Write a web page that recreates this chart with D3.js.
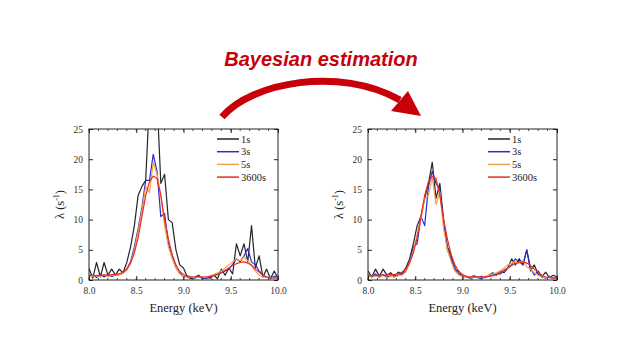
<!DOCTYPE html>
<html><head><meta charset="utf-8">
<script src="https://cdn.jsdelivr.net/npm/d3@7"></script>
<style>body{margin:0;background:#fff}svg{display:block}</style>
</head><body>
<svg id="c" width="640" height="360"></svg>
<script>
// Energy grid (keV), step 0.04
const energy = d3.range(51).map(i => +(8 + i * 0.04).toFixed(2));
const seriesNames = ["1s", "3s", "5s", "3600s"];
const colors = ["#262626", "#2b2bd6", "#f4a24c", "#ee2a22"];
const xTicks = [8.0, 8.5, 9.0, 9.5, 10.0];
const yTicks = [0, 5, 10, 15, 20, 25];

// Left panel (raw)
const left1s = [1.9,0.3,2.9,0.5,2.9,0.8,1.8,0.8,1.8,1.2,2.9,5.5,9.0,14.0,15.5,16.5,30,30,30,16.0,17.5,10.0,9.5,5.0,2.5,2.0,0.5,0.2,0.5,0.8,0.2,0.5,0.3,0.8,0.2,1.8,0.8,2.0,1.0,6.0,4.0,6.0,3.0,9.0,2.0,4.0,0.5,1.8,0.2,1.5,0.3];
const left3s = [0.5,0.8,0.4,1.0,0.5,0.9,0.6,0.8,0.9,1.2,1.8,3.0,5.5,8.5,12.0,16.5,16.5,20.8,18.0,10.5,11.0,6.0,4.0,2.0,1.2,0.5,0.7,0.5,0.3,0.6,0.4,0.2,0.5,0.8,1.0,1.2,1.5,1.8,2.6,3.5,3.0,4.0,5.2,3.0,2.5,1.5,0.8,0.5,0.3,0.6,0.6];
const left5s = [0.6,0.6,0.8,0.5,0.9,0.5,0.8,0.7,0.9,1.1,1.6,2.8,5.0,8.0,11.5,15.5,14.5,19.5,17.5,14.0,9.0,5.5,3.5,2.0,1.0,0.6,0.5,0.5,0.4,0.5,0.5,0.4,0.7,0.9,1.2,1.5,2.0,2.5,3.0,3.5,3.2,3.8,3.2,2.5,1.5,0.8,0.5,0.4,0.4,0.4,0.5];
const left3600s = [0.8,0.7,0.7,0.8,0.8,0.8,0.9,0.9,1.0,1.3,1.8,2.8,4.5,7.0,10.5,14.0,16.3,17.2,16.8,14.0,10.0,6.8,4.2,2.5,1.4,0.9,0.6,0.5,0.5,0.5,0.5,0.5,0.6,0.7,0.9,1.2,1.6,2.0,2.4,2.7,2.9,3.0,2.8,2.4,1.8,1.3,0.8,0.5,0.4,0.3,0.3];

// Right panel (Bayesian estimation)
const right1s = [1.5,0.5,1.8,0.6,1.8,0.8,1.2,0.6,1.3,1.0,2.0,3.5,6.0,9.0,10.5,13.5,16.0,19.5,13.5,16.0,10.0,5.5,4.0,1.5,1.5,0.5,0.6,0.4,0.7,0.5,0.6,0.4,0.8,1.2,0.8,1.5,1.2,2.0,3.5,2.5,3.5,2.5,5.0,1.5,2.5,1.0,0.5,1.3,0.4,0.8,0.5];
const right3s = [0.8,0.5,1.0,0.4,0.9,0.5,0.7,0.5,0.8,0.9,1.5,3.0,5.5,6.0,10.5,9.0,15.5,18.0,16.0,15.0,9.5,5.0,3.5,2.0,1.0,0.7,0.5,0.3,0.5,0.4,0.2,0.5,0.6,0.8,1.0,1.0,1.6,2.0,2.5,3.5,3.0,2.5,5.0,2.0,0.8,1.5,0.5,0.3,0.6,0.3,0.5];
const right5s = [0.6,0.5,0.7,0.4,0.8,0.3,0.6,0.5,0.7,0.8,1.3,2.8,4.8,7.5,10.0,13.5,14.0,17.0,12.5,14.5,8.5,5.0,3.0,1.5,0.8,0.6,0.5,0.5,0.4,0.5,0.4,0.6,0.8,1.0,1.2,1.5,2.0,2.5,2.8,3.0,2.8,3.2,2.2,1.8,1.2,0.8,0.5,0.4,0.5,0.3,0.4];
const right3600s = left3600s.slice();

const svg = d3.select("#c");

// Title and arrow
svg.append("text").attr("x", 321).attr("y", 66).attr("text-anchor", "middle")
  .attr("font-family", "Liberation Sans, Arial, sans-serif").attr("font-weight", "bold")
  .attr("font-style", "italic").attr("font-size", 20).attr("fill", "#c8000a")
  .text("Bayesian estimation");
svg.append("path").attr("d", "M222,117 C252,82 340,66 400,100").attr("fill", "none")
  .attr("stroke", "#c8000a").attr("stroke-width", 7);
svg.append("path").attr("d", "M421,116 L391,111 L408,91 Z").attr("fill", "#c8000a");

function panel(x0, x1, data, legX) {
  const top = 129, bottom = 280;
  const x = d3.scaleLinear().domain([8, 10]).range([x0, x1]);
  const y = d3.scaleLinear().domain([0, 25]).range([bottom, top]);
  const g = svg.append("g");
  const id = "clip" + x0;
  g.append("clipPath").attr("id", id).append("rect")
    .attr("x", x0).attr("y", top).attr("width", x1 - x0).attr("height", bottom - top);
  const line = d3.line().x((d, i) => x(energy[i])).y(d => y(d));
  const lg = g.append("g").attr("clip-path", `url(#${id})`);
  data.forEach((s, k) => {
    lg.append("path").datum(s).attr("d", line).attr("fill", "none")
      .attr("stroke", colors[k]).attr("stroke-width", 1.2).attr("stroke-linejoin", "round");
  });
  // frame
  g.append("rect").attr("x", x0).attr("y", top).attr("width", x1 - x0).attr("height", bottom - top)
    .attr("fill", "none").attr("stroke", "#222").attr("stroke-width", 1);
  const font = "'Liberation Serif', 'Times New Roman', serif";
  // axes
  const minor = d3.range(8, 10.0001, 0.1);
  const ax = g.append("g").attr("transform", `translate(0,${bottom})`)
    .call(d3.axisBottom(x).tickValues(xTicks).tickSize(-4).tickPadding(7).tickFormat(d3.format(".1f")));
  const axT = g.append("g").attr("transform", `translate(0,${top})`)
    .call(d3.axisTop(x).tickValues(xTicks).tickSize(-4).tickFormat(""));
  [bottom, top].forEach(yy => {
    g.append("g").selectAll("line").data(minor).join("line")
      .attr("x1", d => x(d)).attr("x2", d => x(d)).attr("y1", yy)
      .attr("y2", yy === bottom ? yy - 2 : yy + 2).attr("stroke", "#222").attr("stroke-width", 0.8);
  });
  const ay = g.append("g").attr("transform", `translate(${x0},0)`)
    .call(d3.axisLeft(y).tickValues(yTicks).tickSize(-4).tickPadding(6));
  const ayR = g.append("g").attr("transform", `translate(${x1},0)`)
    .call(d3.axisRight(y).tickValues(yTicks).tickSize(-4).tickFormat(""));
  [ax, axT, ay, ayR].forEach(a => {
    a.attr("font-family", font);
    a.select(".domain").remove();
    a.selectAll("line").attr("stroke", "#222");
    a.selectAll("text").attr("font-family", font).attr("font-size", 9.5).attr("fill", "#333");
  });
  // titles
  g.append("text").attr("x", (x0 + x1) / 2).attr("y", 312).attr("text-anchor", "middle")
    .attr("font-family", font).attr("font-size", 12.5).attr("fill", "#222").text("Energy (keV)");
  const yt = g.append("text").attr("transform", `translate(${x0 - 25},${(top + bottom) / 2}) rotate(-90)`)
    .attr("text-anchor", "middle").attr("font-family", font).attr("font-size", 12.5).attr("fill", "#222");
  yt.append("tspan").text("λ (s");
  yt.append("tspan").attr("font-size", 8).attr("dy", -5).text("-1");
  yt.append("tspan").attr("dy", 5).text(")");
  // legend
  const lgd = g.append("g");
  seriesNames.forEach((n, k) => {
    const yy = 139 + k * 12.7;
    lgd.append("line").attr("x1", legX).attr("x2", legX + 22).attr("y1", yy).attr("y2", yy)
      .attr("stroke", colors[k]).attr("stroke-width", 1.5);
    lgd.append("text").attr("x", legX + 24).attr("y", yy + 3.5).attr("font-family", font)
      .attr("font-size", 10.5).attr("fill", "#222").text(n);
  });
}

panel(89, 278, [left1s, left3s, left5s, left3600s], 217);
panel(368, 557, [right1s, right3s, right5s, right3600s], 488);
</script>
</body></html>
